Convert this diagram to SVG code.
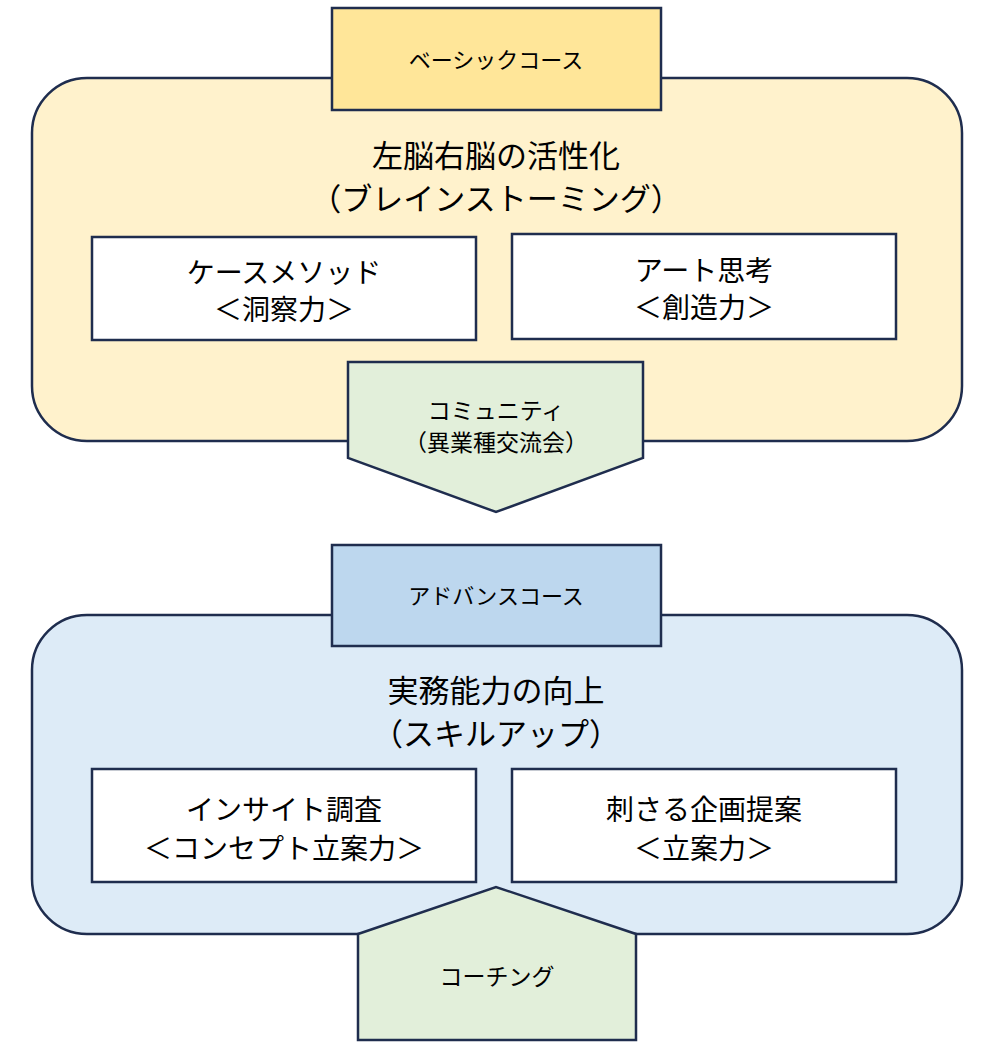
<svg xmlns="http://www.w3.org/2000/svg" width="994" height="1051" viewBox="0 0 994 1051">
<style>
.s{stroke:#1F2D4E;stroke-width:2.5}
text{font-family:"Noto Sans CJK JP","Noto Sans",sans-serif;fill:#000;text-anchor:middle}
.t{font-size:31px}.b{font-size:28px}.l{font-size:22px}.a{font-size:23px}
</style>
<rect width="994" height="1051" fill="#fff"/>
<g id="basic">
<rect class="s" x="32" y="78" width="930" height="363" rx="55" fill="#FFF2CC"/>
<text class="t" x="496" y="167">左脳右脳の活性化</text>
<text class="t" x="496" y="210">（ブレインストーミング）</text>
</g>
<g id="basic-label"><rect class="s" x="332" y="8" width="329" height="102" fill="#FFE699"/><text class="l" x="496" y="68">ベーシックコース</text></g>
<g id="case"><rect class="s" x="92" y="237" width="384" height="103" fill="#fff"/><text class="b" x="284" y="283">ケースメソッド</text><text class="b" x="284" y="320">＜洞察力＞</text></g>
<g id="art"><rect class="s" x="512" y="234" width="384" height="105" fill="#fff"/><text class="b" x="704" y="281">アート思考</text><text class="b" x="704" y="318">＜創造力＞</text></g>
<g id="advanced">
<rect class="s" x="32" y="615" width="930" height="319" rx="55" fill="#DDEBF7"/>
<text class="t" x="496" y="702">実務能力の向上</text>
<text class="t" x="496" y="745">（スキルアップ）</text>
</g>
<g id="adv-label"><rect class="s" x="332" y="545" width="329" height="101" fill="#BDD7EE"/><text class="l" x="496" y="604">アドバンスコース</text></g>
<g id="insight"><rect class="s" x="92" y="769" width="384" height="113" fill="#fff"/><text class="b" x="284" y="820">インサイト調査</text><text class="b" x="284" y="859">＜コンセプト立案力＞</text></g>
<g id="proposal"><rect class="s" x="512" y="769" width="384" height="113" fill="#fff"/><text class="b" x="704" y="820">刺さる企画提案</text><text class="b" x="704" y="859">＜立案力＞</text></g>
<g id="connectors">
<g id="community"><path class="s" d="M348,362H643V458L496,512L348,458Z" fill="#E2EFDA"/><text class="a" x="496" y="419">コミュニティ</text><text class="a" x="496" y="451">（異業種交流会）</text></g>
<g id="coaching"><path class="s" d="M358,934L496,887L636,934V1040H358Z" fill="#E2EFDA"/><text class="a" x="497" y="985">コーチング</text></g>
</g>
</svg>
